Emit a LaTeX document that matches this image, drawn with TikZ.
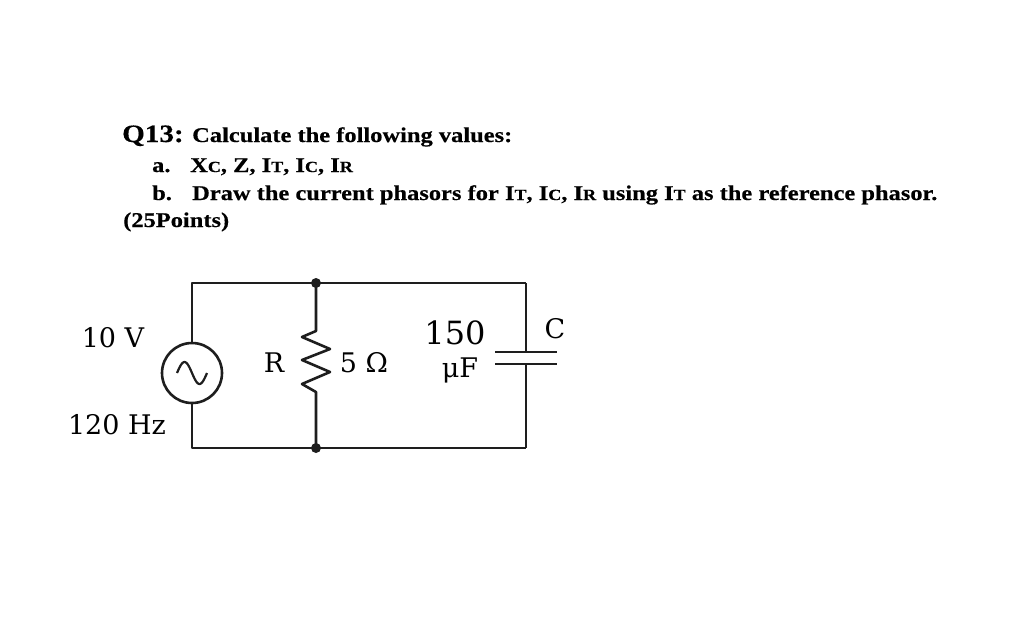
\documentclass[tikz,border=0pt]{standalone}
\usepackage{fontspec}
\setmainfont{Liberation Serif}[BoldFeatures={FakeStretch=1.165, FakeBold=0.4}]
\newfontfamily\circfont{DejaVu Serif}
\usetikzlibrary{calc}
\definecolor{wirecol}{RGB}{30,30,30}
\newcommand{\smc}[1]{{\fontsize{15.5}{16}\selectfont #1}}

\begin{document}
\begin{tikzpicture}[x=1pt, y=-1pt, line join=round,
    wire/.style={wirecol, line width=2.6pt},
    head/.style={anchor=base west, inner sep=0pt, font=\bfseries\fontsize{21}{25}\selectfont},
    lbl/.style={inner sep=0pt, font=\circfont\fontsize{27}{30}\selectfont}]

    \useasboundingbox[fill=white] (0,0) rectangle (1024,641);

		% question text
		\node[head, font=\bfseries\fontsize{25}{30}\selectfont] (q13) at (122,142) {Q13:};
		\node[head] (calc) at (192,142) {Calculate the following values:};
		\node[head] (itema) at (152,172) {a.};
		\node[head] (lista) at (190,172) {X\smc{C}, Z, I\smc{T}, I\smc{C}, I\smc{R}};
		\node[head] (itemb) at (152,200) {b.};
		\node[head] (drawb) at (192,200) {Draw the current phasors for I\smc{T}, I\smc{C}, I\smc{R} using I\smc{T} as the reference phasor.};
		\node[head] (points) at (123,227) {(25Points)};

		% corners of the circuit
		\coordinate (tl) at (192,283);
		\coordinate (bl) at (192,448);
		\coordinate (tm) at (316,283);
		\coordinate (bm) at (316,448);
		\coordinate (tr) at (526,283);
		\coordinate (br) at (526,448);

		% source
		\node[wire, draw, circle, minimum size=60pt, inner sep=0pt] (src) at (192,373) {};
		\draw[wire, line width=2.2pt] plot[smooth, domain=0:1, samples=40] ({192+30*(\x-0.5)},{373-11*sin(360*\x)});

		% resistor
		\coordinate (rtop) at (316,331);
		\coordinate (rbot) at (316,392);
		\draw[wire] (tm) -- (rtop) -- (302,337) -- (330,349) -- (302,360) -- (330,372) -- (302,384) -- (rbot) -- (bm);

		% capacitor
		\coordinate (ctop) at (526,352);
		\coordinate (cbot) at (526,364);
		\draw[wire] (tr) -- (ctop);
		\draw[wire] (cbot) -- (br);
		\draw[wire] ($(ctop)+(-31,0)$) -- ($(ctop)+(31,0)$);
		\draw[wire] ($(cbot)+(-31,0)$) -- ($(cbot)+(31,0)$);

		% wires
		\draw[wire] (src.north) -- (tl) -- (tr);
		\draw[wire] (src.south) -- (bl) -- (br);
		\fill[wirecol] (tm) circle (5) (bm) circle (5);

		% labels
		\node[lbl] (volt) at (113,338) {10 V};
		\node[lbl] (freq) at (117,425) {120 Hz};
		\node[lbl] (rname) at (274,363) {R};
		\node[lbl] (rval) at (364,363) {5 Ω};
		\node[lbl, font=\circfont\fontsize{32}{34}\selectfont] (cval) at (455,333) {150};
		\node[lbl] (cunit) at (460,370) {μF};
		\node[lbl] (cname) at (555,329) {C};

\end{tikzpicture}
\end{document}
